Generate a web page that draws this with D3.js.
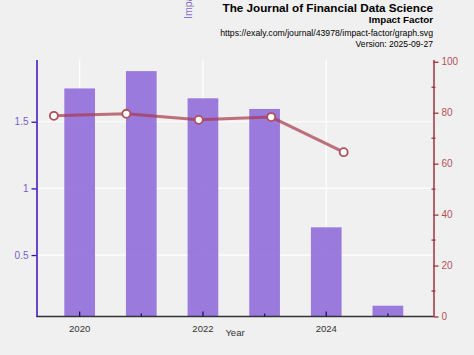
<!DOCTYPE html>
<html><head><meta charset="utf-8">
<script src="https://cdn.jsdelivr.net/npm/d3@7"></script>
<style>body{margin:0;background:#f0f0f0;} svg{display:block;font-family:"Liberation Sans",Arial,sans-serif;}</style>
</head><body>
<script>
const years = [2020, 2021, 2022, 2023, 2024, 2025];
const impactFactor = [1.75, 1.88, 1.676, 1.596, 0.708, 0.12];
const lineYears = [2020, 2021, 2022, 2023, 2024];
const percentile = [78.8, 79.6, 77.2, 78.3, 64.5];
const xTickLabels = [2020, 2022, 2024];
const leftTicks = [0.5, 1, 1.5];
const rightTicks = [0, 20, 40, 60, 80, 100];

const W = 474, H = 355;
const L = 36.5, R = 433.5, T = 59.5, B = 316.5;
const svg = d3.select("body").append("svg").attr("width", W).attr("height", H);
svg.append("rect").attr("width", W).attr("height", H).attr("fill", "#f0f0f0");

const x = d3.scaleLinear().domain([2019.3, 2025.74]).range([L, R]);
const xl = d3.scaleLinear().domain([2019.76, 2025.24]).range([L, R]);
const y = d3.scaleLinear().domain([0.039, 1.967]).range([B, T]);
const y2 = d3.scaleLinear().domain([0, 100.9]).range([B, T]);

// grid
svg.append("g").selectAll("line").data(leftTicks).join("line")
  .attr("x1", L).attr("x2", R).attr("y1", d => y(d)).attr("y2", d => y(d))
  .attr("stroke", "#fff").attr("stroke-width", 1.2);
svg.append("g").selectAll("line").data(xTickLabels).join("line")
  .attr("x1", d => x(d)).attr("x2", d => x(d)).attr("y1", T).attr("y2", B)
  .attr("stroke", "#fff").attr("stroke-width", 1.2);

// bars
const bw = 30.7;
svg.append("g").selectAll("rect").data(years).join("rect")
  .attr("x", d => x(d) - bw / 2).attr("width", bw)
  .attr("y", (d, i) => y(impactFactor[i])).attr("height", (d, i) => B - y(impactFactor[i]))
  .attr("fill", "#9370db").attr("opacity", 0.92);

// line
const line = d3.line().x((d, i) => xl(lineYears[i])).y(d => y2(d));
svg.append("path").datum(percentile).attr("d", line)
  .attr("fill", "none").attr("stroke", "#a8384a").attr("stroke-opacity", 0.7).attr("stroke-width", 3);
svg.append("g").selectAll("circle").data(percentile).join("circle")
  .attr("cx", (d, i) => xl(lineYears[i])).attr("cy", d => y2(d)).attr("r", 4)
  .attr("fill", "#fff").attr("stroke", "#b0505c").attr("stroke-width", 1.8);

// bottom axis
const gx = svg.append("g").attr("transform", `translate(0,${B})`);
gx.append("line").attr("x1", L).attr("x2", R).attr("stroke", "#333").attr("stroke-width", 1.5);
gx.selectAll("line.t").data(years).join("line").attr("class", "t")
  .attr("x1", d => x(d)).attr("x2", d => x(d)).attr("y1", 0)
  .attr("y2", d => xTickLabels.includes(d) ? -5 : -3)
  .attr("stroke", "#2a0a6a").attr("stroke-width", 1.3);
gx.selectAll("text").data(xTickLabels).join("text")
  .attr("x", d => x(d)).attr("y", 15.5).attr("text-anchor", "middle")
  .attr("font-size", 9.5).attr("fill", "#333").text(d => d);
svg.append("text").attr("x", 235).attr("y", 336).attr("text-anchor", "middle")
  .attr("font-size", 9.5).attr("fill", "#333").text("Year");

// left axis
const gl = svg.append("g").attr("transform", `translate(${L},0)`)
  .call(d3.axisLeft(y).tickValues(leftTicks).tickFormat(d3.format("")).tickSize(5).tickSizeOuter(0));
gl.select(".domain").attr("stroke", "#3b0fc0").attr("stroke-width", 1.5);
gl.selectAll(".tick line").attr("stroke", "#3b0fc0").attr("stroke-width", 1.3);
gl.selectAll(".tick text").attr("fill", "#7a5cc7").attr("font-size", 10).attr("font-family", "Liberation Sans, Arial, sans-serif");

// right axis
const gr = svg.append("g").attr("transform", `translate(${R},0)`)
  .call(d3.axisRight(y2).tickValues(rightTicks).tickSize(5).tickSizeOuter(0));
gr.select(".domain").attr("stroke", "#a0353f").attr("stroke-width", 1.5);
gr.selectAll(".tick line").attr("stroke", "#a0353f").attr("stroke-width", 1.3);
gr.selectAll(".tick text").attr("fill", "#b5525a").attr("font-size", 10).attr("font-family", "Liberation Sans, Arial, sans-serif");
gr.selectAll("line.minor").data([10, 30, 50, 70, 90]).join("line").attr("class", "minor")
  .attr("x1", -2).attr("x2", 2).attr("y1", d => y2(d)).attr("y2", d => y2(d))
  .attr("stroke", "#a0353f").attr("stroke-width", 1.3);

// y label (clipped at top, as in the reference)
svg.append("text").attr("transform", "translate(191.5,19) rotate(-90)")
  .attr("text-anchor", "start").attr("font-size", 10.5).attr("fill", "#8a6fd0").text("Impact Factor");

// titles
const tx = 433;
svg.append("text").attr("x", tx).attr("y", 11.5).attr("text-anchor", "end")
  .attr("font-size", 11.7).attr("font-weight", "bold").attr("fill", "#000").text("The Journal of Financial Data Science");
svg.append("text").attr("x", tx).attr("y", 23).attr("text-anchor", "end")
  .attr("font-size", 9.8).attr("font-weight", "bold").attr("fill", "#000").text("Impact Factor");
svg.append("text").attr("x", tx).attr("y", 36).attr("text-anchor", "end")
  .attr("font-size", 8.7).attr("fill", "#000").text("https://exaly.com/journal/43978/impact-factor/graph.svg");
svg.append("text").attr("x", tx).attr("y", 47).attr("text-anchor", "end")
  .attr("font-size", 8.6).attr("fill", "#000").text("Version: 2025-09-27");
</script>
</body></html>
